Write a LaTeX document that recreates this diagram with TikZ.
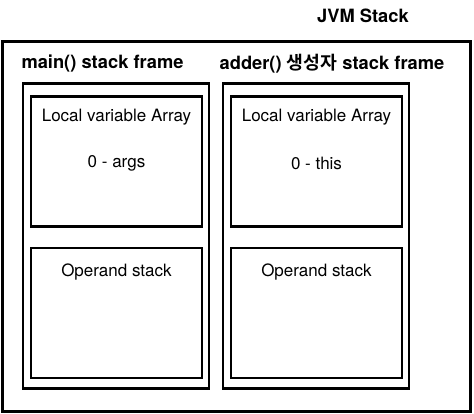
\documentclass[tikz,border=0pt]{standalone}
\usepackage{fontspec}
\setmainfont{TeX Gyre Heros}
\newfontfamily\krfont[BoldFont={Noto Sans CJK KR Bold}]{Noto Sans CJK KR}
\usepackage{tikz}
\usetikzlibrary{calc,positioning}

\begin{document}
\begin{tikzpicture}[x=1pt,y=-1pt,font=\fontsize{17}{20}\selectfont]
    \tikzset{
      stackbox/.style={draw, line width=3pt, minimum width=468pt, minimum height=370pt, inner sep=0pt},
      framebox/.style={draw, line width=2.6pt, minimum width=186pt, minimum height=305pt, inner sep=0pt},
      areabox/.style={draw, line width=2.6pt, minimum width=171pt, minimum height=130pt, inner sep=0pt},
      title/.style={font=\fontsize{18.3}{22}\selectfont\bfseries, inner sep=0pt},
      label/.style={inner sep=0pt}
    }
    \useasboundingbox (0,0) rectangle (474,414);

    \node[stackbox] (jvm) at (236.5,226.5) {};
    \node[title] (jvmtitle) at (363,16) {JVM Stack};

    % main() frame
    \node[framebox] (mainframe) at (116,236) {};
    \node[title] (maintitle) at (102.5,64) {main() stack frame};
    \node[areabox] (mainlocal) at (116.5,161.5) {};
    \node[label] (mainlocaltxt) at ($(mainlocal.north)+(0,22)$) {Local variable Array};
    \node[label] (mainarg) at ($(mainlocal.north)+(0,68.5)$) {0 - args};
    \node[areabox] (mainop) at (116.5,313) {};
    \node[label] (mainoptxt) at ($(mainop.north)+(0,25)$) {Operand stack};

    % adder() frame
    \node[framebox] (adderframe) at (316,236) {};
    \node[title] (addertitle) at (332,64) {adder() {\krfont\bfseries 생성자} stack frame};
    \node[areabox] (adderlocal) at (316.5,161.5) {};
    \node[label] (adderlocaltxt) at ($(adderlocal.north)+(0,22)$) {Local variable Array};
    \node[label] (adderarg) at ($(adderlocal.north)+(0,68.5)$) {0 - this};
    \node[areabox] (adderop) at (316.5,313) {};
    \node[label] (adderoptxt) at ($(adderop.north)+(0,25)$) {Operand stack};
\end{tikzpicture}
\end{document}
